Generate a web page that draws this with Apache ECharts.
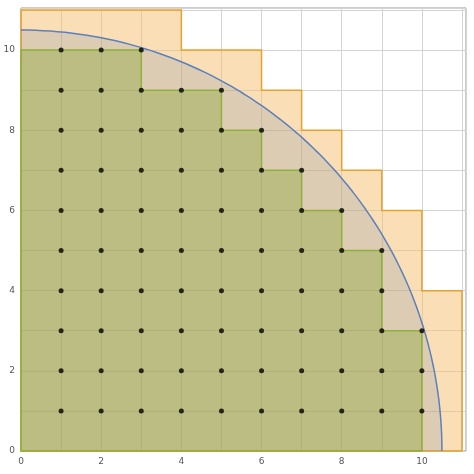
<!DOCTYPE html>
<html>
<head>
<meta charset="utf-8">
<script src="https://cdn.jsdelivr.net/npm/echarts@6/dist/echarts.min.js"></script>
<style>html,body{margin:0;padding:0;background:#fff}#c{width:474px;height:474px}</style>
</head>
<body>
<div id="c"></div>
<script>
// row widths for y = 1, 2, ... (staircase steps)
const innerWidths = [10, 10, 10, 9, 9, 8, 7, 6, 5, 3]
const outerWidths = [11, 11, 11, 11, 10, 10, 9, 8, 7, 6, 4]
const radius = 10.5

// staircase polygon from widths
function stairs (widths) {
  let pts = [[0, 0]]
  widths.forEach(function (w, i) {
    pts.push([w, i])
    pts.push([w, i + 1])
  })
  pts.push([0, widths.length])
  return pts
}

let arc = []
for (let i = 0; i <= 90; i++) {
  let a = i * Math.PI / 180
  arc.push([radius * Math.cos(a), radius * Math.sin(a)])
}

// lattice points inside the quarter circle
let lattice = []
innerWidths.forEach(function (w, i) {
  for (let x = 1; x <= w; x++) lattice.push([x, i + 1])
})

function polySeries (pts, fill, stroke, z) {
  return {
    type: 'custom',
    z: z,
    silent: true,
    data: [0],
    renderItem: function (params, api) {
      return {
        type: 'polygon',
        shape: { points: pts.map(function (p) { return api.coord(p) }) },
        style: { fill: fill, stroke: stroke, lineWidth: stroke ? 1.5 : 0 }
      }
    }
  }
}

let chart = echarts.init(document.getElementById('c'))
let axisCommon = {
  type: 'value',
  min: 0,
  interval: 1,
  axisLine: { show: false },
  axisTick: { show: false },
  splitLine: { show: true, lineStyle: { color: '#d4d4d4', width: 1 } },
  axisLabel: {
    color: '#555',
    fontSize: 9,
    fontFamily: 'DejaVu Sans',
    formatter: function (v) { return v % 2 === 0 ? String(v) : '' }
  }
}
chart.setOption({
  animation: false,
  grid: { left: 21, right: 8, top: 8, bottom: 23, show: true, borderColor: '#999', borderWidth: 1 },
  xAxis: Object.assign({}, axisCommon, { max: 11.1, axisLabel: Object.assign({}, axisCommon.axisLabel, { margin: 6 }) }),
  yAxis: Object.assign({}, axisCommon, { max: 11.05, axisLabel: Object.assign({}, axisCommon.axisLabel, { margin: 6 }) }),
  series: [
    polySeries(stairs(outerWidths), 'rgba(246,190,110,0.5)', '#e6a22e', 2),
    polySeries([[0, 0]].concat(arc), 'rgba(100,130,170,0.2)', null, 3),
    polySeries(stairs(innerWidths), 'rgba(130,160,40,0.35)', '#8fb03a', 4),
    {
      type: 'line',
      z: 5,
      data: arc,
      showSymbol: false,
      smooth: false,
      lineStyle: { color: '#5b80bd', width: 1.5 }
    },
    {
      type: 'scatter',
      z: 6,
      data: lattice,
      symbolSize: 5,
      itemStyle: { color: '#000' }
    }
  ]
})
</script>
</body>
</html>
